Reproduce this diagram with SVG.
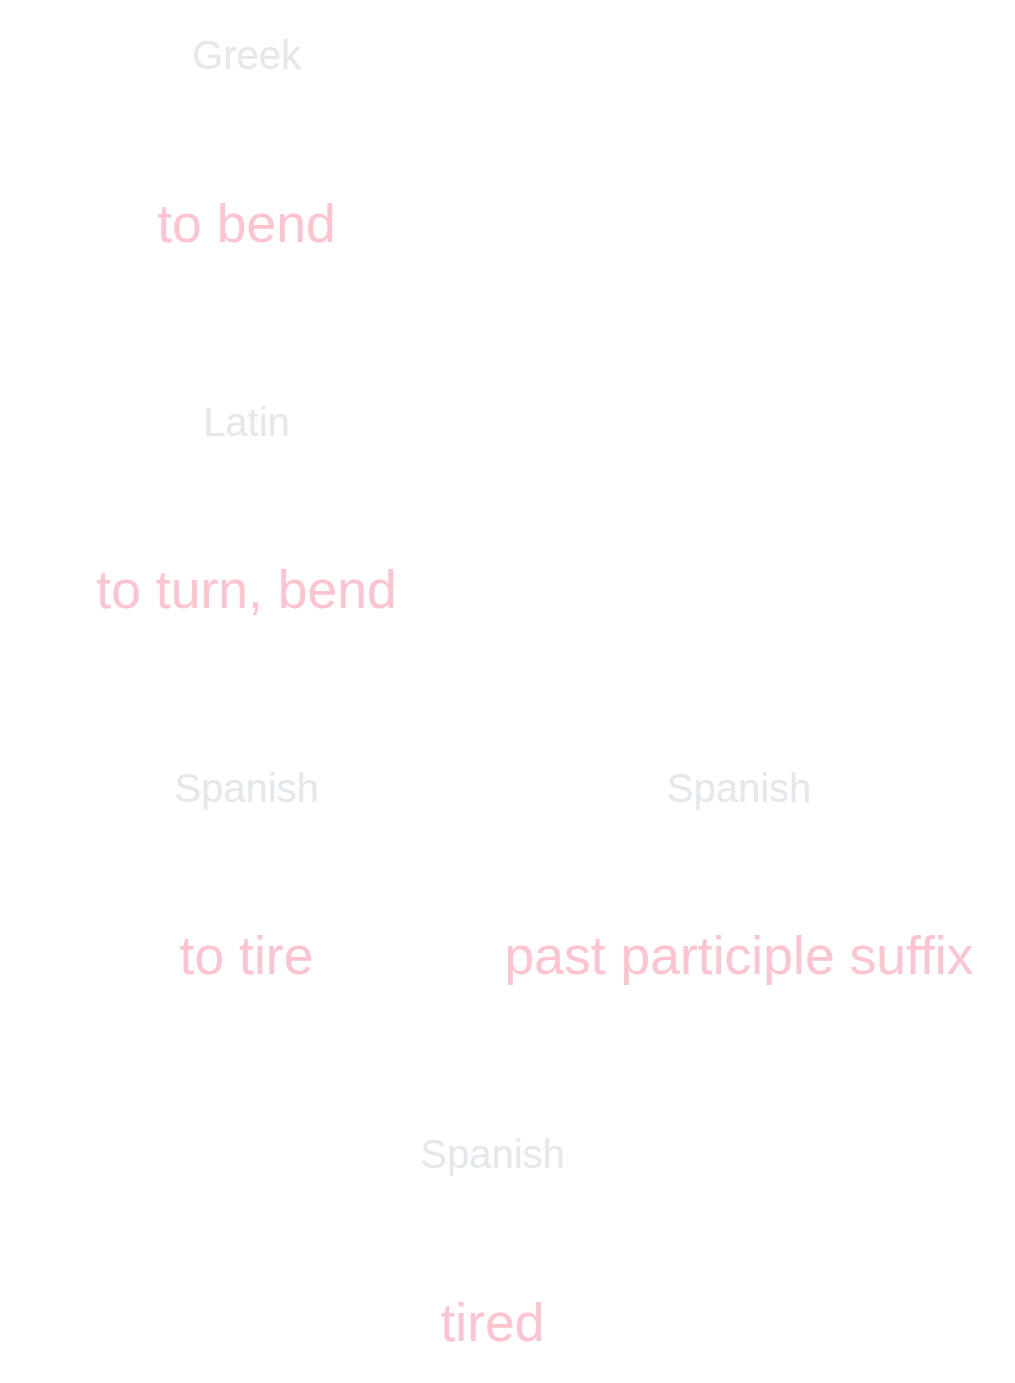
<svg xmlns="http://www.w3.org/2000/svg" width="1015" height="1383" viewBox="0 0 1015 1383">
<style>
.lang{font-family:"Liberation Sans",Arial,sans-serif;font-size:40px;fill:#e5e7eb;text-anchor:middle}
.gloss{font-family:"Liberation Sans",Arial,sans-serif;font-size:53.5px;fill:#fdc4cf;text-anchor:middle}
</style>
<rect width="1015" height="1383" fill="#ffffff"/>
<g id="connectors"></g>
<g id="node-greek">
<text class="lang" x="246.5" y="69">Greek</text>
<text class="gloss" x="246.5" y="242">to bend</text>
</g>
<g id="node-latin">
<text class="lang" x="246.5" y="436">Latin</text>
<text class="gloss" x="246.5" y="608">to turn, bend</text>
</g>
<g id="node-spanish-verb">
<text class="lang" x="246.5" y="802">Spanish</text>
<text class="gloss" x="246.5" y="974">to tire</text>
</g>
<g id="node-spanish-suffix">
<text class="lang" x="739" y="802">Spanish</text>
<text class="gloss" x="739" y="974">past participle suffix</text>
</g>
<g id="node-spanish-result">
<text class="lang" x="492.5" y="1168">Spanish</text>
<text class="gloss" x="492.5" y="1341">tired</text>
</g>
</svg>
